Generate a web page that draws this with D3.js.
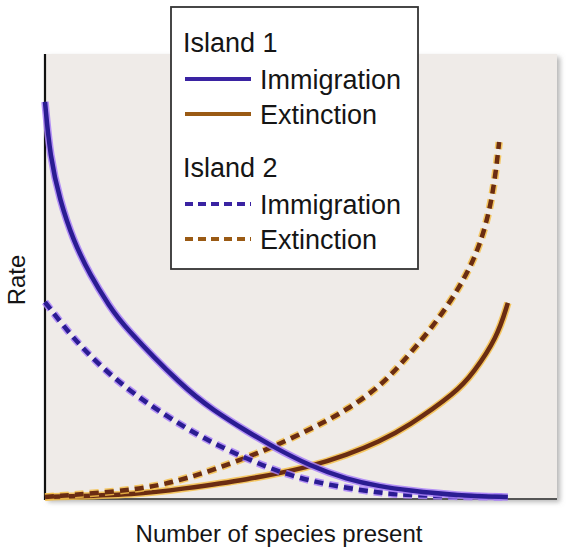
<!DOCTYPE html>
<html>
<head>
<meta charset="utf-8">
<script src="https://cdn.jsdelivr.net/npm/d3@7"></script>
<style>
  body { margin: 0; background: #fff; }
  #chart { width: 568px; height: 553px; }
  text { font-family: "Liberation Sans", Arial, sans-serif; fill: #151515; }
</style>
</head>
<body>
<div id="chart"></div>
<script>
// species present (x) and rate (y)
var island1ImmX = [0, 1.0, 2.9, 5.5, 8.8, 12.7, 15.2, 27.0, 32.8, 39.5, 44.5, 51.8, 59.0, 65.4, 70.7, 80.5, 90.4];
var island1ImmY = [89.4, 76.9, 67.2, 58.1, 50.2, 43.0, 38.9, 24.8, 19.7, 14.8, 11.4, 7.0, 4.0, 2.4, 1.5, 0.3, 0];

var island1ExtX = [0, 18.6, 26.4, 39.5, 51.8, 59.0, 65.4, 70.7, 80.5, 83.6, 88.3, 90.4];
var island1ExtY = [0, 0.6, 1.8, 3.9, 6.8, 9.5, 12.6, 15.8, 23.8, 28.0, 36.0, 43.9];

var island2ImmX = [0, 6.8, 16.0, 26.4, 32.8, 39.5, 45.9, 52.3, 59.0, 65.4, 69.3, 80.0, 90.0];
var island2ImmY = [44.1, 33.9, 24.2, 16.3, 12.2, 8.6, 5.6, 3.5, 2.0, 1.0, 0.5, 0.1, 0];

var island2ExtX = [0, 18.6, 26.4, 32.8, 39.5, 44.5, 52.3, 59.0, 65.4, 69.3, 75.8, 81.1, 85.0, 87.5, 88.7];
var island2ExtY = [0, 1.6, 3.8, 6.1, 9.0, 11.3, 15.6, 19.7, 25.0, 29.8, 38.5, 47.5, 56.6, 67.9, 80.3];

var legendGroups = ["Island 1", "Island 2"];
var legendLabels = ["Immigration", "Extinction"];
var xLabel = "Number of species present";
var yLabel = "Rate";

function drawChart() {
    var divElement = document.getElementById("chart");
    var width = 568;
    var height = 553;
    var left = 45, right = 557, top = 54, bottom = 499;

    var svg = d3.select(divElement)
        .append("svg")
        .attr("width", width)
        .attr("height", height);

    var defs = svg.append("defs");
    defs.append("filter").attr("id", "shadow")
        .attr("x", "-5%").attr("y", "-5%").attr("width", "115%").attr("height", "115%")
        .append("feDropShadow")
        .attr("dx", 3).attr("dy", 3).attr("stdDeviation", 2.5)
        .attr("flood-color", "#777").attr("flood-opacity", 0.55);

    var xScale = d3.scaleLinear().domain([0, 100]).range([left, right]);
    var yScale = d3.scaleLinear().domain([0, 100]).range([497, 55]);

    // plot background
    svg.append("rect")
        .attr("x", left).attr("y", top)
        .attr("width", right - left).attr("height", bottom - top)
        .attr("fill", "#efebe8")
        .attr("filter", "url(#shadow)");

    // axes
    svg.append("line")
        .attr("x1", left).attr("x2", right).attr("y1", bottom).attr("y2", bottom)
        .attr("stroke", "#555").attr("stroke-width", 2);
    svg.append("line")
        .attr("x1", left).attr("x2", left).attr("y1", top).attr("y2", bottom + 1)
        .attr("stroke", "#111").attr("stroke-width", 2.2);

    var line = d3.line()
        .x(function(d) { return xScale(d[0]); })
        .y(function(d) { return yScale(d[1]); })
        .curve(d3.curveBasis);

    var series = [
        { xs: island1ExtX, ys: island1ExtY, halo: "#f5c04a", core: "#6a2c12", dash: null },
        { xs: island2ExtX, ys: island2ExtY, halo: "#f5c04a", core: "#6a2c12", dash: "9,6" },
        { xs: island2ImmX, ys: island2ImmY, halo: "#a880f8", core: "#2a1c92", dash: "9,6" },
        { xs: island1ImmX, ys: island1ImmY, halo: "#a880f8", core: "#2a1c92", dash: null }
    ];

    series.forEach(function(s) {
        var pts = s.xs.map(function(x, i) { return [x, s.ys[i]]; });
        svg.append("path")
            .datum(pts)
            .attr("d", line)
            .attr("fill", "none")
            .attr("stroke", s.halo)
            .attr("stroke-width", 7.5)
            .attr("stroke-opacity", 0.85)
            .attr("stroke-dasharray", s.dash);
        svg.append("path")
            .datum(pts)
            .attr("d", line)
            .attr("fill", "none")
            .attr("stroke", s.core)
            .attr("stroke-width", 4.5)
            .attr("stroke-dasharray", s.dash);
    });

    // legend box
    svg.append("rect")
        .attr("x", 171).attr("y", 7)
        .attr("width", 247).attr("height", 262)
        .attr("fill", "#fff")
        .attr("stroke", "#333").attr("stroke-width", 1.8);

    var legendRows = [
        { group: 0, y: 52 },
        { label: 0, y: 89, color: "#3a23a2", dash: null },
        { label: 1, y: 124, color: "#9a5a14", dash: null },
        { group: 1, y: 177 },
        { label: 0, y: 214, color: "#3a23a2", dash: "8,5" },
        { label: 1, y: 249, color: "#9a5a14", dash: "8,5" }
    ];

    legendRows.forEach(function(r) {
        if (r.group !== undefined) {
            svg.append("text")
                .attr("x", 183).attr("y", r.y)
                .attr("font-size", 27)
                .text(legendGroups[r.group]);
        } else {
            svg.append("line")
                .attr("x1", 185).attr("x2", 251)
                .attr("y1", r.y - 10).attr("y2", r.y - 10)
                .attr("stroke", r.color).attr("stroke-width", 4)
                .attr("stroke-dasharray", r.dash);
            svg.append("text")
                .attr("x", 260).attr("y", r.y)
                .attr("font-size", 27)
                .text(legendLabels[r.label]);
        }
    });

    // axis titles
    svg.append("text")
        .attr("x", 279).attr("y", 542)
        .attr("text-anchor", "middle")
        .attr("font-size", 24)
        .attr("fill", "#222")
        .text(xLabel);

    svg.append("text")
        .attr("transform", "translate(25,280) rotate(-90)")
        .attr("text-anchor", "middle")
        .attr("font-size", 24)
        .attr("fill", "#222")
        .text(yLabel);
}

drawChart();
</script>
</body>
</html>
